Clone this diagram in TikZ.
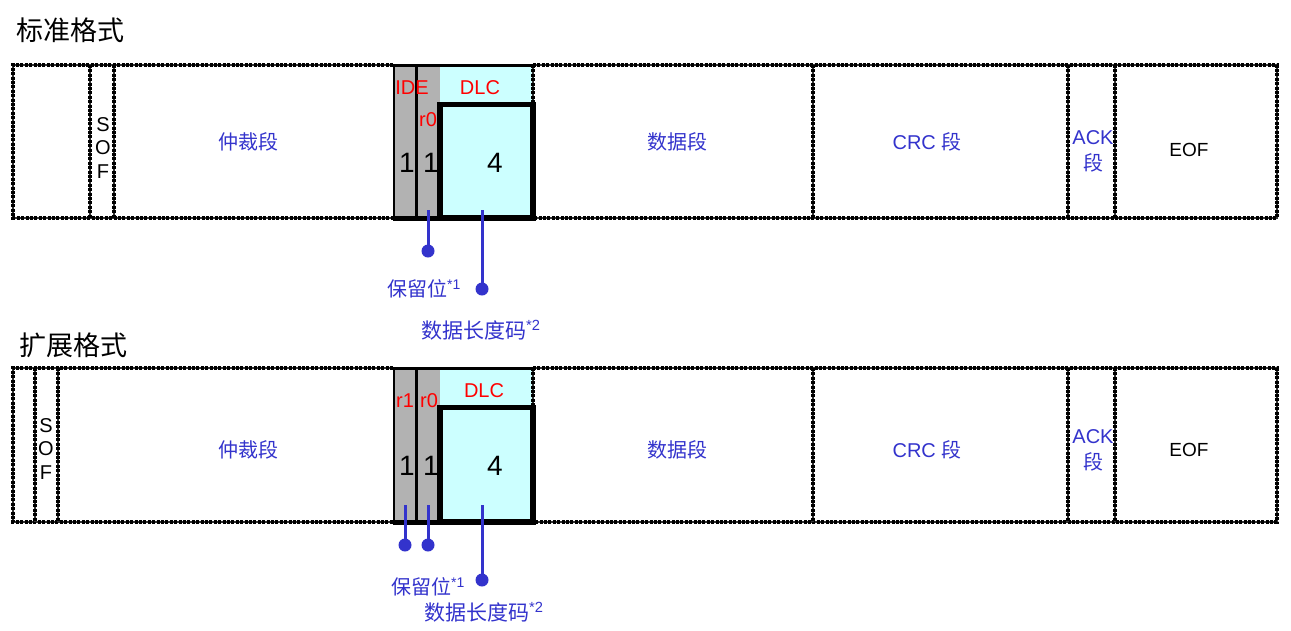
\documentclass[tikz,border=0pt]{standalone}
\usepackage{fontspec}
\setmainfont{Liberation Sans}
\newfontfamily\cjk{Noto Sans CJK SC}
\definecolor{fblue}{HTML}{3333CC}
\definecolor{fred}{HTML}{FF0000}
\definecolor{fcyan}{HTML}{CCFFFF}
\definecolor{fgray}{HTML}{B2B2B2}
\begin{document}
\begin{tikzpicture}[x=1pt,y=-1pt,
  dotln/.style={line width=4pt, dash pattern=on 3pt off 1.4pt, line cap=butt, preaction={draw=black!80, line width=2pt, solid}},
  lat/.style={inner sep=0pt, font=\fontsize{20}{23.5}\selectfont, align=center},
  blu/.style={lat, text=fblue},
  redt/.style={lat, text=fred},
  num/.style={inner sep=0pt, font=\fontsize{28}{30}\selectfont},
  ttl/.style={inner sep=0pt, anchor=west, font=\cjk\fontsize{27}{29}\selectfont},
  lbl/.style={inner sep=0pt, anchor=west, text=fblue, font=\cjk\fontsize{20}{22}\selectfont},
  lbl2/.style={lbl, font=\cjk\fontsize{21}{23}\selectfont},
  conn/.style={draw=fblue, line width=3pt},
  dotn/.style={circle, fill=fblue, inner sep=0pt, minimum size=13pt}
]
\useasboundingbox (0,0) rectangle (1291,630);

% ================= standard format =================
\node[ttl] (t-title) at (16,30) {标准格式};
\fill[fgray] (393,65) rectangle (440,218);
\fill[fcyan] (440,65) rectangle (533,218);
\draw[dotln] (393,65) -- (13,65) -- (13,218) -- (393,218);
\draw[dotln] (533,65) -- (1277,65) -- (1277,218) -- (533,218);
\foreach \x in {89.5,114,813,1068,1115} \draw[dotln] (\x,65) -- (\x,218);
\draw[dotln] (533,65) -- (533,103);
\draw[line width=3pt] (393,65) -- (533,65);
\draw[line width=5pt] (393,218) -- (533,218);
\draw[line width=2pt] (393.5,65) -- (393.5,218);
\draw[line width=3pt] (416,65) -- (416,218);
\draw[line width=5.5pt] (440,104.5) rectangle (533,218);

\node[lat] (t-sof) at (103,148) {S\\O\\F};
\node[blu] (t-arb) at (248,142) {\cjk 仲裁段};
\node[redt] (t-ide) at (412,88) {IDE};
\node[redt] (t-r0) at (428,120) {r0};
\node[redt] (t-dlc) at (480,88) {DLC};
\node[num] (t-n1) at (407,163) {1};
\node[num] (t-n2) at (431,163) {1};
\node[num] (t-n4) at (495,163) {4};
\node[blu] (t-data) at (677,142) {\cjk 数据段};
\node[blu] (t-crc) at (927,142) {CRC {\cjk 段}};
\node[blu, font=\fontsize{20}{26}\selectfont] (t-ack) at (1093,151) {ACK\\{\cjk 段}};
\node[lat, font=\fontsize{19}{22}\selectfont] (t-eof) at (1189,150) {EOF};

\coordinate (t-c1) at (428,210);
\coordinate (t-c2) at (482,210);
\node[dotn] (t-d1) at (428,251) {};
\node[dotn] (t-d2) at (482,289) {};
\draw[conn] (t-c1) -- (t-d1.center);
\draw[conn] (t-c2) -- (t-d2.center);
\node[lbl] (t-l1) at (387,289) {保留位\textsuperscript{\rmfamily *1}};
\node[lbl2] (t-l2) at (421,330) {数据长度码\textsuperscript{\rmfamily *2}};

% ================= extended format =================
\node[ttl] (e-title) at (19,345) {扩展格式};
\fill[fgray] (393,368) rectangle (440,522);
\fill[fcyan] (440,368) rectangle (533,522);
\draw[dotln] (393,368) -- (13,368) -- (13,522) -- (393,522);
\draw[dotln] (533,368) -- (1277,368) -- (1277,522) -- (533,522);
\foreach \x in {35,57.5,813,1068,1115} \draw[dotln] (\x,368) -- (\x,522);
\draw[dotln] (533,368) -- (533,406);
\draw[line width=3pt] (393,368) -- (533,368);
\draw[line width=5pt] (393,522) -- (533,522);
\draw[line width=2pt] (393.5,368) -- (393.5,522);
\draw[line width=3pt] (416,368) -- (416,522);
\draw[line width=5.5pt] (440,407.5) rectangle (533,522);

\node[lat] (e-sof) at (46,449) {S\\O\\F};
\node[blu] (e-arb) at (248,450) {\cjk 仲裁段};
\node[redt] (e-r1) at (405,401) {r1};
\node[redt] (e-r0) at (429,401) {r0};
\node[redt] (e-dlc) at (484,391) {DLC};
\node[num] (e-n1) at (407,466) {1};
\node[num] (e-n2) at (431,466) {1};
\node[num] (e-n4) at (495,466) {4};
\node[blu] (e-data) at (677,450) {\cjk 数据段};
\node[blu] (e-crc) at (927,450) {CRC {\cjk 段}};
\node[blu, font=\fontsize{20}{26}\selectfont] (e-ack) at (1093,450) {ACK\\{\cjk 段}};
\node[lat, font=\fontsize{19}{22}\selectfont] (e-eof) at (1189,450) {EOF};

\coordinate (e-c0) at (405,505);
\coordinate (e-c1) at (428,505);
\coordinate (e-c2) at (482,505);
\node[dotn] (e-d0) at (405,545) {};
\node[dotn] (e-d1) at (428,545) {};
\node[dotn] (e-d2) at (482,580) {};
\draw[conn] (e-c0) -- (e-d0.center);
\draw[conn] (e-c1) -- (e-d1.center);
\draw[conn] (e-c2) -- (e-d2.center);
\node[lbl] (e-l1) at (391,587) {保留位\textsuperscript{\rmfamily *1}};
\node[lbl2] (e-l2) at (424,612) {数据长度码\textsuperscript{\rmfamily *2}};
\end{tikzpicture}
\end{document}
